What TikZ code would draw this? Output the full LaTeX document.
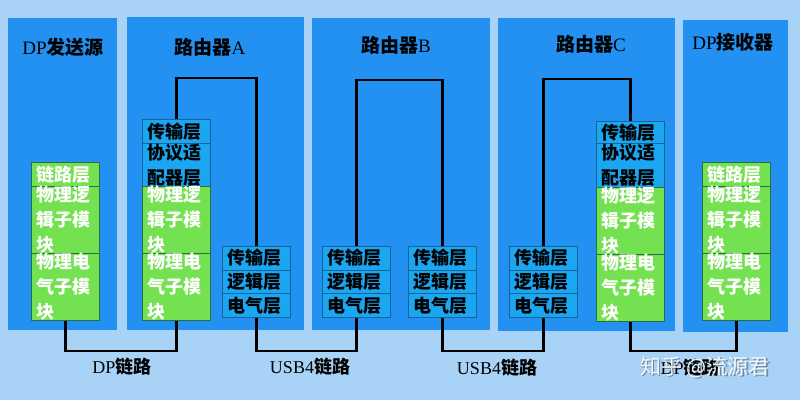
\documentclass[tikz,border=0pt]{standalone}
\usepackage{fontspec}
\setmainfont{Liberation Serif}
\newfontfamily\cjk{Noto Sans CJK SC}
\definecolor{bgblue}{RGB}{168,211,246}
\definecolor{panelblue}{RGB}{34,145,242}
\definecolor{cellblue}{RGB}{26,166,240}
\definecolor{cellborder}{RGB}{20,100,150}
\definecolor{cellgreen}{RGB}{116,226,80}
\definecolor{greenborder}{RGB}{40,110,70}
\newcommand\mkcell[6]{\node[#1, minimum height=#5pt] (#2) at (#3,#4) {#6};}
\newcommand\mkpanel[5]{\node[panel, minimum width=#4pt, minimum height=#5pt] (#1) at (#2,#3) {};}
\begin{document}
\begin{tikzpicture}[x=1pt,y=-1pt,
  panel/.style={fill=panelblue, draw=none, anchor=north west, inner sep=0pt},
  title/.style={font=\fontsize{19pt}{19pt}\selectfont, text=black},
  cellbase/.style={anchor=north west, inner xsep=5pt, inner ysep=0pt, text width=58pt, align=left,
    font=\cjk\bfseries\fontsize{18pt}{25pt}\selectfont, line width=0.6pt},
  bcell/.style={cellbase, fill=cellblue, draw=cellborder, text=black},
  gcell/.style={cellbase, fill=cellgreen, draw=greenborder, text=white},
  link/.style={draw=black, line width=2.6pt, line join=miter},
  lbl/.style={font=\fontsize{18pt}{18pt}\selectfont, text=black},
  wm/.style={font=\cjk\fontsize{21pt}{21pt}\selectfont}]
\useasboundingbox (0,0) rectangle (800,400);
\fill[bgblue] (0,0) rectangle (800,400);
% panels
\mkpanel{Psrc}{8}{18}{109}{312}
\mkpanel{PA}{127}{17}{177}{313}
\mkpanel{PB}{312}{18}{178}{312}
\mkpanel{PC}{498}{18}{177}{313}
\mkpanel{Prx}{683}{20}{105}{312}
% titles
\node[title] (Tsrc) at (63,47) {DP{\cjk\bfseries 发送源}};
\node[title] (TA) at (210,47) {{\cjk\bfseries 路由器}A};
\node[title] (TB) at (396,45) {{\cjk\bfseries 路由器}B};
\node[title] (TC) at (591,44) {{\cjk\bfseries 路由器}C};
\node[title] (Trx) at (733,42) {DP{\cjk\bfseries 接收器}};
% cells: DP source
\mkcell{gcell}{Slink}{31}{162}{24}{链路层}
\mkcell{gcell}{Slog}{31}{186}{67}{物理逻\\辑子模\\块}
\mkcell{gcell}{Sphy}{31}{253}{64}{物理电\\气子模\\块}
% router A left
\mkcell{bcell}{Atr}{142}{119}{24}{传输层}
\mkcell{bcell}{Aad}{142}{143}{43}{协议适\\配器层}
\mkcell{gcell}{Alog}{142}{186}{67}{物理逻\\辑子模\\块}
\mkcell{gcell}{Aphy}{142}{253}{64}{物理电\\气子模\\块}
% router A right
\mkcell{bcell}{Artr}{222}{246}{23.7}{传输层}
\mkcell{bcell}{Arlog}{222}{269.7}{23.6}{逻辑层}
\mkcell{bcell}{Arel}{222}{293.3}{23.7}{电气层}
% router B left
\mkcell{bcell}{Bltr}{322}{246}{23.7}{传输层}
\mkcell{bcell}{Bllog}{322}{269.7}{23.6}{逻辑层}
\mkcell{bcell}{Blel}{322}{293.3}{23.7}{电气层}
% router B right
\mkcell{bcell}{Brtr}{408}{246}{23.7}{传输层}
\mkcell{bcell}{Brlog}{408}{269.7}{23.6}{逻辑层}
\mkcell{bcell}{Brel}{408}{293.3}{23.7}{电气层}
% router C left
\mkcell{bcell}{Cltr}{509}{246}{23.7}{传输层}
\mkcell{bcell}{Cllog}{509}{269.7}{23.6}{逻辑层}
\mkcell{bcell}{Clel}{509}{293.3}{23.7}{电气层}
% router C right
\mkcell{bcell}{Ctr}{596}{121}{22}{传输层}
\mkcell{bcell}{Cad}{596}{143}{44}{协议适\\配器层}
\mkcell{gcell}{Clog}{596}{187}{67}{物理逻\\辑子模\\块}
\mkcell{gcell}{Cphy}{596}{254}{64}{物理电\\气子模\\块}
% DP receiver
\mkcell{gcell}{Rlink}{702}{162}{24}{链路层}
\mkcell{gcell}{Rlog}{702}{186}{67}{物理逻\\辑子模\\块}
\mkcell{gcell}{Rphy}{702}{253}{64}{物理电\\气子模\\块}
% connectors inside routers
\coordinate (topA) at (0,78);
\coordinate (topB) at (0,80);
\coordinate (topC) at (0,79);
\draw[link] (Atr.north) -- (Atr.north |- topA) -- (Artr.north |- topA) -- (Artr.north);
\draw[link] (Bltr.north) -- (Bltr.north |- topB) -- (Brtr.north |- topB) -- (Brtr.north);
\draw[link] (Cltr.north) -- (Cltr.north |- topC) -- (Ctr.north |- topC) -- (Ctr.north);
% external links
\coordinate (bot) at (0,351);
\draw[link] (Sphy.south) -- (Sphy.south |- bot) -- (Aphy.south |- bot) -- (Aphy.south);
\draw[link] (Arel.south) -- (Arel.south |- bot) -- (Blel.south |- bot) -- (Blel.south);
\draw[link] (Brel.south) -- (Brel.south |- bot) -- (Clel.south |- bot) -- (Clel.south);
\draw[link] (Cphy.south) -- (Cphy.south |- bot) -- (Rphy.south |- bot) -- (Rphy.south);
% link labels
\node[lbl] (L1) at (122,367) {DP{\cjk\bfseries 链路}};
\node[lbl] (L2) at (310,367) {USB4{\cjk\bfseries 链路}};
\node[lbl] (L3) at (497,368) {USB4{\cjk\bfseries 链路}};
\node[lbl] (L4) at (690,368) {DP{\cjk\bfseries 链路}};
% watermark
\node[wm, text=black, opacity=0.35] (wms) at (706.5,368.5) {知乎 @流源君};
\node[wm, text=white, opacity=0.9] (wmk) at (705,367) {知乎 @流源君};
\end{tikzpicture}
\end{document}
